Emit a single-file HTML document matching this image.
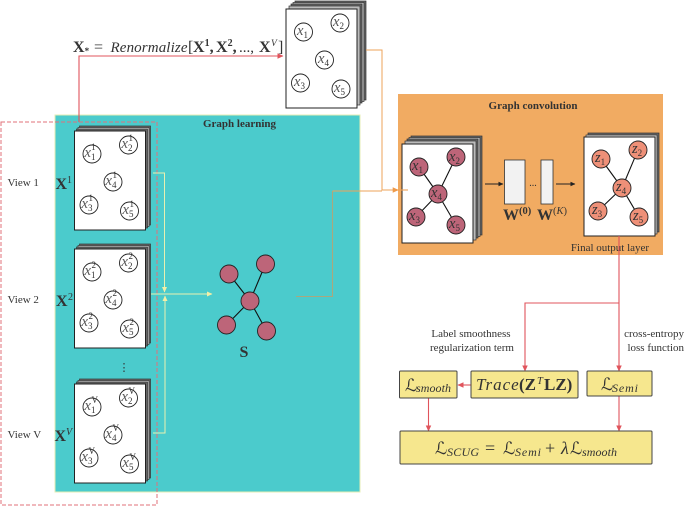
<!DOCTYPE html>
<html><head><meta charset="utf-8"><style>
html,body{margin:0;padding:0;background:#fff;width:685px;height:506px;overflow:hidden}
svg{display:block}
text{font-family:"Liberation Serif",serif;fill:#333}
.m{font-style:italic;font-size:14.5px;fill:#555}
.s{font-size:9px;font-style:normal;fill:#333}
.b{font-weight:bold}
.c{fill:#fff;stroke:#222;stroke-width:.9}
.n{stroke:#222;stroke-width:.9;fill:#bd6579}
.z{stroke:#222;stroke-width:.9;fill:#ee9078}
.e{stroke:#111;stroke-width:1.1;fill:none}
.y{fill:#f6e78e;stroke:#444;stroke-width:1}
.r{stroke:#e0545c;stroke-width:1.1;fill:none}
.cal{font-family:"DejaVu Sans",sans-serif;font-size:17px;fill:#333}
.sub{font-style:italic;font-size:12px;fill:#333;font-family:"Liberation Serif",serif}
.eq{font-family:"Liberation Serif",serif;font-size:18px;fill:#333}
</style></head><body>
<svg width="685" height="506" viewBox="0 0 685 506" xmlns="http://www.w3.org/2000/svg">
<defs>
<g id="st3">
<rect x="5" y="-5" width="71" height="99" fill="#666" stroke="#333" stroke-width=".7"/>
<rect x="3.500" y="-3.500" width="71" height="99" fill="#ccc" stroke="#333" stroke-width=".7"/>
<rect x="2" y="-2" width="71" height="99" fill="#666" stroke="#333" stroke-width=".7"/>
<rect x="0" y="0" width="71" height="99" fill="#fff" stroke="#222" stroke-width="1"/>
</g>
<g id="st6">
<rect x="9" y="-8" width="71" height="99" fill="#666" stroke="#333" stroke-width=".7"/>
<rect x="7" y="-6.500" width="71" height="99" fill="#bbb" stroke="#333" stroke-width=".7"/>
<rect x="5" y="-5" width="71" height="99" fill="#666" stroke="#333" stroke-width=".7"/>
<rect x="3" y="-3" width="71" height="99" fill="#bbb" stroke="#333" stroke-width=".7"/>
<rect x="0" y="0" width="71" height="99" fill="#fff" stroke="#222" stroke-width="1"/>
</g>
<g id="cs">
<circle class="c" cx="17.500" cy="23" r="9"/><circle class="c" cx="54" cy="14" r="9"/>
<circle class="c" cx="38.500" cy="51" r="9"/><circle class="c" cx="14.500" cy="74" r="9"/>
<circle class="c" cx="55" cy="80" r="9"/>
</g>
<marker id="ar" markerWidth="6" markerHeight="6" refX="5" refY="3" orient="auto"><path d="M0,.5 L5.500,3 L0,5.500 z" fill="#e0545c"/></marker>
<marker id="ay" markerWidth="6" markerHeight="6" refX="5" refY="3" orient="auto"><path d="M0,.5 L5.500,3 L0,5.500 z" fill="#f4efa6"/></marker>
<marker id="ak" markerWidth="6" markerHeight="6" refX="5" refY="3" orient="auto"><path d="M0,.5 L5.500,3 L0,5.500 z" fill="#222"/></marker>
<marker id="ao" markerWidth="6" markerHeight="6" refX="3" refY="3" orient="auto"><path d="M0,.5 L5.500,3 L0,5.500 z" fill="#ee9a4a"/></marker>
</defs>

<!-- teal panel -->
<rect x="55" y="115" width="305" height="377" fill="#4bcbcc" stroke="#e6eeb4" stroke-width="1"/>
<text x="239.500" y="127" text-anchor="middle" class="b" font-size="11">Graph learning</text>

<!-- top formula -->
<text x="73" y="52" class="b" font-size="16">X<tspan font-size="9" dy="2">*</tspan></text>
<text x="94" y="52" font-size="16">=</text>
<text x="110.500" y="52" font-style="italic" font-size="15" fill="#555" textLength="77">Renormalize</text>
<text x="188" y="52" font-size="16">[</text>
<text x="193" y="52" class="b" font-size="16">X<tspan font-size="10" dy="-6">1</tspan><tspan dy="6">,</tspan></text>
<text x="216" y="52" class="b" font-size="16">X<tspan font-size="10" dy="-6">2</tspan><tspan dy="6">,</tspan></text>
<text x="239" y="52" font-size="15">...,</text>
<text x="259" y="52" class="b" font-size="16">X</text>
<text x="271" y="46" font-size="9.500" font-style="italic">V</text>
<text x="278" y="52" font-size="16">]</text>

<!-- red path to top stack -->
<path class="r" d="M79 122V56H283" marker-end="url(#ar)"/>

<!-- top stack -->
<g transform="translate(286,9)"><use href="#st6"/><use href="#cs"/>
<text class="m" x="11" y="26">x<tspan class="s" dy="3">1</tspan></text>
<text class="m" x="47" y="17">x<tspan class="s" dy="3">2</tspan></text>
<text class="m" x="32" y="54">x<tspan class="s" dy="3">4</tspan></text>
<text class="m" x="8" y="77">x<tspan class="s" dy="3">3</tspan></text>
<text class="m" x="48" y="83">x<tspan class="s" dy="3">5</tspan></text>
</g>

<!-- stack X1 -->
<g transform="translate(74.500,131)"><use href="#st3"/><use href="#cs"/>
<text class="m" x="10" y="26">x<tspan class="s" dy="3">1</tspan><tspan class="s" dx="-4" dy="-10">1</tspan></text>
<text class="m" x="47" y="17">x<tspan class="s" dy="3">2</tspan><tspan class="s" dx="-4" dy="-10">1</tspan></text>
<text class="m" x="31" y="54">x<tspan class="s" dy="3">4</tspan><tspan class="s" dx="-4" dy="-10">1</tspan></text>
<text class="m" x="7" y="77">x<tspan class="s" dy="3">3</tspan><tspan class="s" dx="-4" dy="-10">1</tspan></text>
<text class="m" x="48" y="83">x<tspan class="s" dy="3">5</tspan><tspan class="s" dx="-4" dy="-10">1</tspan></text>
</g>
<!-- stack X2 -->
<g transform="translate(74.500,249)"><use href="#st3"/><use href="#cs"/>
<text class="m" x="10" y="26">x<tspan class="s" dy="3">1</tspan><tspan class="s" dx="-4" dy="-10">2</tspan></text>
<text class="m" x="47" y="17">x<tspan class="s" dy="3">2</tspan><tspan class="s" dx="-4" dy="-10">2</tspan></text>
<text class="m" x="31" y="54">x<tspan class="s" dy="3">4</tspan><tspan class="s" dx="-4" dy="-10">2</tspan></text>
<text class="m" x="7" y="77">x<tspan class="s" dy="3">3</tspan><tspan class="s" dx="-4" dy="-10">2</tspan></text>
<text class="m" x="48" y="83">x<tspan class="s" dy="3">5</tspan><tspan class="s" dx="-4" dy="-10">2</tspan></text>
</g>
<!-- stack XV -->
<g transform="translate(74.500,384)"><use href="#st3"/><use href="#cs"/>
<text class="m" x="10" y="26">x<tspan class="s" dy="3">1</tspan><tspan class="s" dx="-4" dy="-10">V</tspan></text>
<text class="m" x="47" y="17">x<tspan class="s" dy="3">2</tspan><tspan class="s" dx="-4" dy="-10">V</tspan></text>
<text class="m" x="31" y="54">x<tspan class="s" dy="3">4</tspan><tspan class="s" dx="-4" dy="-10">V</tspan></text>
<text class="m" x="7" y="77">x<tspan class="s" dy="3">3</tspan><tspan class="s" dx="-4" dy="-10">V</tspan></text>
<text class="m" x="48" y="83">x<tspan class="s" dy="3">5</tspan><tspan class="s" dx="-4" dy="-10">V</tspan></text>
</g>

<text x="124" y="371" text-anchor="middle" font-size="11" fill="#333">⋮</text>

<!-- X labels -->
<text x="55.500" y="189" class="b" font-size="16">X</text><text x="67" y="183" font-size="10">1</text>
<text x="56" y="306" class="b" font-size="16">X</text><text x="68" y="300" font-size="10">2</text>
<text x="54.500" y="441" class="b" font-size="16">X</text><text x="66" y="435" font-size="10" font-style="italic">V</text>

<!-- view labels -->
<text x="7.500" y="186" font-size="11">View 1</text>
<text x="7.500" y="303" font-size="11">View 2</text>
<text x="7.500" y="438" font-size="11">View V</text>

<!-- dashed -->
<rect x="1" y="122" width="156" height="383" fill="none" stroke="#e0727a" stroke-width="1" stroke-dasharray="4 2"/>

<!-- pale connectors -->
<g stroke="#e8f0b0" stroke-width="1" fill="none">
<path d="M153 173H164.500V292" marker-end="url(#ay)"/>
<path d="M153 433H165V296" marker-end="url(#ay)"/>
<path d="M151 294H212" marker-end="url(#ay)"/>
</g>

<!-- S graph -->
<path class="e" d="M250 301L229 274M250 301L265.500 264M250 301L226.500 325M250 301L266.500 331"/>
<circle class="n" cx="250" cy="301" r="9"/><circle class="n" cx="229" cy="274" r="9"/>
<circle class="n" cx="265.500" cy="264" r="9"/><circle class="n" cx="226.500" cy="325" r="9"/>
<circle class="n" cx="266.500" cy="331" r="9"/>
<text x="244" y="357" text-anchor="middle" class="b" font-size="16">S</text>

<!-- orange connectors out of teal -->
<path d="M296 296.500H332.500V191" fill="none" stroke="#a9a87e" stroke-width="1.100"/>
<path d="M332.500 191H382" fill="none" stroke="#eea35a" stroke-width="1"/>
<path d="M366 50H382V190H408" fill="none" stroke="#eea35a" stroke-width="1"/>

<!-- orange panel -->
<rect x="398" y="94" width="265" height="161" fill="#f1ab62"/>
<text x="533" y="109" text-anchor="middle" class="b" font-size="11">Graph convolution</text>

<!-- left stack in panel -->
<g transform="translate(402,144)"><use href="#st6"/></g>
<path d="M396 190H408" stroke="#eea35a" stroke-width="1.100" marker-start="url(#ao)"/>
<path class="e" d="M438 194L419 167M438 194L456 157M438 194L416 217M438 194L456 225"/>
<circle class="n" cx="419" cy="167" r="9"/><circle class="n" cx="456" cy="157" r="9"/><circle class="n" cx="438" cy="194" r="9"/><circle class="n" cx="416" cy="217" r="9"/><circle class="n" cx="456" cy="225" r="9"/>
<text class="m" x="412" y="170" style="fill:#333">x<tspan class="s" dy="3">1</tspan></text>
<text class="m" x="449" y="161" style="fill:#333">x<tspan class="s" dy="3">2</tspan></text>
<text class="m" x="431" y="197" style="fill:#333">x<tspan class="s" dy="3">4</tspan></text>
<text class="m" x="409" y="220" style="fill:#333">x<tspan class="s" dy="3">3</tspan></text>
<text class="m" x="449" y="228" style="fill:#333">x<tspan class="s" dy="3">5</tspan></text>

<!-- W -->
<rect x="504.500" y="160" width="20.500" height="44" fill="#f2f2f2" stroke="#333" stroke-width=".8"/>
<rect x="541" y="160" width="12" height="44" fill="#f2f2f2" stroke="#333" stroke-width=".8"/>
<path d="M485 184H503" stroke="#222" stroke-width=".9" marker-end="url(#ak)"/>
<path d="M556 184H575" stroke="#222" stroke-width=".9" marker-end="url(#ak)"/>
<text x="533" y="186" text-anchor="middle" font-size="10">...</text>
<text x="503" y="220" class="b" font-size="16">W</text><text x="519" y="214" font-size="10.500" class="b">(0)</text>
<text x="537" y="220" class="b" font-size="16">W</text><text x="553" y="214" font-size="10.500">(<tspan font-style="italic">K</tspan>)</text>

<!-- right stack -->
<g transform="translate(584,137)">
<rect x="4" y="-4" width="71" height="99" fill="#666" stroke="#333" stroke-width=".7"/>
<rect x="2" y="-2" width="71" height="99" fill="#ccc" stroke="#333" stroke-width=".7"/>
<rect x="0" y="0" width="71" height="99" fill="#fff" stroke="#222" stroke-width="1"/>
</g>
<path class="e" d="M622 188L601 159M622 188L638 150M622 188L598 211M622 188L639 217"/>
<circle class="z" cx="601" cy="159" r="9"/><circle class="z" cx="638" cy="150" r="9"/><circle class="z" cx="622" cy="188" r="9"/><circle class="z" cx="598" cy="211" r="9"/><circle class="z" cx="639" cy="217" r="9"/>
<text class="m" x="595" y="162" style="fill:#333">z<tspan class="s" dy="3">1</tspan></text>
<text class="m" x="632" y="153" style="fill:#333">z<tspan class="s" dy="3">2</tspan></text>
<text class="m" x="616" y="191" style="fill:#333">z<tspan class="s" dy="3">4</tspan></text>
<text class="m" x="592" y="214" style="fill:#333">z<tspan class="s" dy="3">3</tspan></text>
<text class="m" x="633" y="220" style="fill:#333">z<tspan class="s" dy="3">5</tspan></text>
<text x="610" y="251" text-anchor="middle" font-size="11">Final output layer</text>

<!-- red lines -->
<path class="r" d="M619 236V371" marker-end="url(#ar)"/>
<path class="r" d="M619 303H525V371" marker-end="url(#ar)"/>
<path class="r" d="M471 385H458" marker-end="url(#ar)"/>
<path class="r" d="M428.500 398V431" marker-end="url(#ar)"/>
<path class="r" d="M619 396V431" marker-end="url(#ar)"/>

<!-- labels -->
<text x="471" y="337" text-anchor="middle" font-size="11">Label smoothness</text>
<text x="472" y="351" text-anchor="middle" font-size="11">regularization term</text>
<text x="684" y="337" text-anchor="end" font-size="11">cross-entropy</text>
<text x="684" y="351" text-anchor="end" font-size="11">loss function</text>

<!-- loss boxes -->
<rect class="y" x="399.500" y="371" width="57.500" height="27" rx="1"/>
<rect class="y" x="471" y="371" width="107" height="27" rx="1"/>
<rect class="y" x="587" y="371" width="65" height="25" rx="1"/>
<rect class="y" x="400" y="431" width="252" height="33" rx="1"/>
<text class="cal" x="405" y="391">ℒ</text><text class="sub" x="416" y="392" textLength="35">smooth</text>
<text x="476" y="390" font-size="17" font-style="italic" letter-spacing="1">Trace</text>
<text x="519" y="390" font-size="17" class="b">(Z</text><text x="537" y="384" font-size="10.500" font-style="italic">T</text><text x="544" y="390" font-size="17" class="b">LZ)</text>
<text class="cal" x="601" y="390">ℒ</text><text class="sub" x="612" y="392" textLength="26">Semi</text>
<text class="cal" x="435" y="454">ℒ</text><text class="sub" x="447" y="456" textLength="32">SCUG</text>
<text class="eq" x="485" y="454">=</text>
<text class="cal" x="503" y="454">ℒ</text><text class="sub" x="515" y="456" textLength="26">Semi</text>
<text class="eq" x="545" y="454">+</text>
<text class="eq" x="561" y="454" font-style="italic">λ</text>
<text class="cal" x="570" y="454">ℒ</text><text class="sub" x="582" y="456" textLength="35">smooth</text>
</svg>
</body></html>
